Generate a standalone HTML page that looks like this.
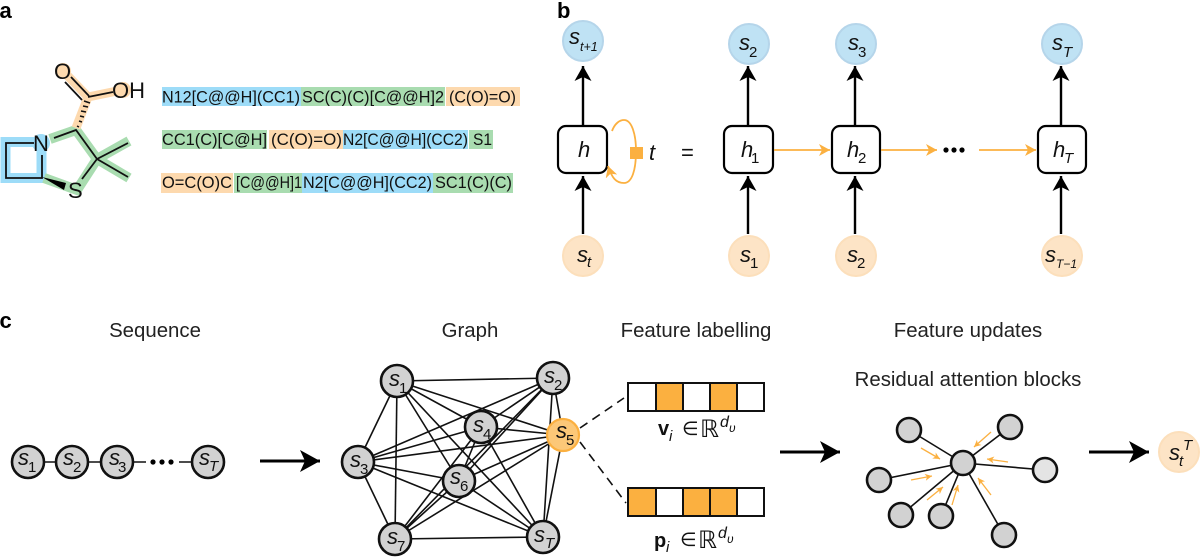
<!DOCTYPE html>
<html><head><meta charset="utf-8"><style>
html,body{margin:0;padding:0;background:#fff}
svg{display:block}
text{font-family:"Liberation Sans",sans-serif;fill:#111}
.i{font-style:italic}
.n{font-size:22px;font-style:italic}
.g{font-size:22px;font-style:italic}
.sub{font-size:15px}
.t{font-size:20.4px;text-anchor:middle;fill:#222}
.sm{font-size:16.4px;fill:#111}
.lab{font-size:22px;font-weight:bold;fill:#000}
.e line{stroke:#111;stroke-width:1.6}
.gn{fill:#d2d2d2;stroke:#111;stroke-width:2.6}
.bl{fill:#bfe2f4;stroke:#b5d5ea;stroke-width:2}
.or{fill:#fde4c6;stroke:#fcdfbb;stroke-width:2}
.bar{stroke:#111;stroke-width:2}
.o{stroke:#fbb040;stroke-width:1.8;fill:none}
.sa{stroke:#fbb040;stroke-width:1.3;fill:none}
</style></head><body>
<svg width="1200" height="557" viewBox="0 0 1200 557" xmlns="http://www.w3.org/2000/svg">
<defs>
<marker id="ar" markerUnits="userSpaceOnUse" markerWidth="17" markerHeight="18" refX="15" refY="9" orient="auto"><path d="M0,0.5 L15,9 L0,17.5 L4,9Z" fill="#000"/></marker>
<marker id="big" markerUnits="userSpaceOnUse" markerWidth="22" markerHeight="22" refX="20" refY="11" orient="auto"><path d="M0,0 L20,11 L0,22 L5,11Z" fill="#000"/></marker>
<marker id="oa" markerUnits="userSpaceOnUse" markerWidth="12" markerHeight="12" refX="11" refY="6" orient="auto"><path d="M0,0 L11,6 L0,12 L3,6Z" fill="#fbb040"/></marker>
<marker id="sm" markerUnits="userSpaceOnUse" markerWidth="8" markerHeight="8" refX="7" refY="4" orient="auto"><path d="M0,0.5 L7,4 L0,7.5 L2,4Z" fill="#fbb040"/></marker>
</defs>

<text class="lab" x="-0.5" y="18">a</text>
<text class="lab" x="557" y="18">b</text>
<text class="lab" x="-0.5" y="328">c</text>

<!-- a: molecule highlights -->
<g fill="none" stroke-linecap="butt">
<rect x="5.5" y="142" width="36" height="36" stroke="#9ddcf8" stroke-width="10"/>
<circle cx="41" cy="143" r="9" fill="#9ddcf8" stroke="none"/>
<path d="M50,139 L76,130 L97,159 L129,141 M97,159 L129,178 M97,159 L77,190 L44,178" stroke="#a9dcb0" stroke-width="10"/>
<path d="M76,128 L88,97 M88,97 L64,72 M88,97 L122,90" stroke="#fdd9ae" stroke-width="9"/>
<circle cx="63" cy="71" r="8" fill="#fdd9ae" stroke="none"/>
<circle cx="123" cy="90" r="8" fill="#fdd9ae" stroke="none"/>
</g>
<!-- a: molecule bonds -->
<g fill="none" stroke="#111" stroke-width="1.8">
<path d="M34,143 L6,143 L6,178 L42,178 L42,155"/>
<path d="M54,138 L76,130 L97,159 L128,143 M97,159 L128,177 M97,159 L82,179"/>
<path d="M88,97 L113,92 M71,77 L89,96 M65,82 L82,100"/>
</g>
<path d="M42,177 L66,183 L64,190Z" fill="#000"/>
<g stroke="#111" stroke-width="1.5"><path d="M84,101 L90,103 M83,106 L88,107 M81,111 L86,112 M80,116 L84,117 M79,121 L82,122 M77,126 L79,127"/></g>
<text x="54" y="79" font-size="22">O</text>
<text x="112" y="98" font-size="22">OH</text>
<text x="33" y="151" font-size="22">N</text>
<text x="68" y="198" font-size="22">S</text>

<!-- a: SMILES -->
<g>
<rect x="162" y="87" width="139" height="19" fill="#9ddcf8"/>
<rect x="301" y="87" width="144" height="19" fill="#a9dcb0"/>
<rect x="446" y="87" width="74" height="19" fill="#fdd9ae"/>
<rect x="162" y="130" width="105" height="19" fill="#a9dcb0"/>
<rect x="269" y="130" width="74" height="19" fill="#fdd9ae"/>
<rect x="343" y="130" width="125" height="19" fill="#9ddcf8"/>
<rect x="469" y="130" width="24" height="19" fill="#a9dcb0"/>
<rect x="161" y="173" width="72" height="20" fill="#fdd9ae"/>
<rect x="234" y="173" width="68" height="20" fill="#a9dcb0"/>
<rect x="302" y="173" width="131" height="20" fill="#9ddcf8"/>
<rect x="433" y="173" width="80" height="20" fill="#a9dcb0"/>
</g>
<g class="smiles">
<text class="sm" x="162" y="102.5" textLength="138" lengthAdjust="spacingAndGlyphs">N12[C@@H](CC1)</text>
<text class="sm" x="302" y="102.5" textLength="142" lengthAdjust="spacingAndGlyphs">SC(C)(C)[C@@H]2</text>
<text class="sm" x="449" y="102.5" textLength="67" lengthAdjust="spacingAndGlyphs">(C(O)=O)</text>
<text class="sm" x="162" y="145" textLength="105" lengthAdjust="spacingAndGlyphs">CC1(C)[C@H]</text>
<text class="sm" x="271" y="145" textLength="71" lengthAdjust="spacingAndGlyphs">(C(O)=O)</text>
<text class="sm" x="343" y="145" textLength="125" lengthAdjust="spacingAndGlyphs">N2[C@@H](CC2)</text>
<text class="sm" x="473" y="145" textLength="19" lengthAdjust="spacingAndGlyphs">S1</text>
<text class="sm" x="162" y="188" textLength="70" lengthAdjust="spacingAndGlyphs">O=C(O)C</text>
<text class="sm" x="236" y="188" textLength="66" lengthAdjust="spacingAndGlyphs">[C@@H]1</text>
<text class="sm" x="303" y="188" textLength="129" lengthAdjust="spacingAndGlyphs">N2[C@@H](CC2)</text>
<text class="sm" x="435" y="188" textLength="77" lengthAdjust="spacingAndGlyphs">SC1(C)(C)</text>
</g>

<!-- b: arrows -->
<g stroke="#000" stroke-width="2.4" fill="none">
<line x1="583" y1="234" x2="583" y2="176" marker-end="url(#ar)"/>
<line x1="583" y1="125" x2="583" y2="66" marker-end="url(#ar)"/>
<line x1="748" y1="234" x2="748" y2="176" marker-end="url(#ar)"/>
<line x1="748" y1="125" x2="748" y2="66" marker-end="url(#ar)"/>
<line x1="855" y1="234" x2="855" y2="176" marker-end="url(#ar)"/>
<line x1="855" y1="125" x2="855" y2="66" marker-end="url(#ar)"/>
<line x1="1061" y1="234" x2="1061" y2="176" marker-end="url(#ar)"/>
<line x1="1061" y1="125" x2="1061" y2="66" marker-end="url(#ar)"/>
</g>
<g fill="#fff" stroke="#000" stroke-width="2.2">
<rect x="558" y="126" width="49" height="47" rx="8"/>
<rect x="724" y="126" width="49" height="47" rx="8"/>
<rect x="832" y="126" width="48" height="47" rx="8"/>
<rect x="1038" y="126" width="48" height="47" rx="8"/>
</g>
<g class="o">
<line x1="774" y1="150" x2="830" y2="150" marker-end="url(#oa)"/>
<line x1="881" y1="150" x2="937" y2="150" marker-end="url(#oa)"/>
<line x1="979" y1="150" x2="1036" y2="150" marker-end="url(#oa)"/>
<path d="M612,131 C615,123 620,120 624,120 C632,120 636,135 636,151 C636,170 632,183 624,183 C616,183 612,178 608,166" marker-end="url(#oa)"/>
</g>
<rect x="630" y="147" width="13" height="12" fill="#fbb040"/>
<text class="n" x="649" y="160">t</text>
<text x="681" y="160" font-size="22">=</text>
<g fill="#000"><circle cx="946" cy="150" r="2.6"/><circle cx="954" cy="150" r="2.6"/><circle cx="962" cy="150" r="2.6"/></g>

<circle class="bl" cx="583" cy="41" r="20"/>
<circle class="bl" cx="749" cy="44" r="20"/>
<circle class="bl" cx="856" cy="44" r="20"/>
<circle class="bl" cx="1062" cy="44" r="20"/>
<circle class="or" cx="583" cy="256" r="20"/>
<circle class="or" cx="749" cy="256" r="20"/>
<circle class="or" cx="856" cy="256" r="20"/>
<circle class="or" cx="1062" cy="256" r="20"/>

<text class="n" x="569" y="44">s</text><text class="i" font-size="12.5" x="580" y="51">t+1</text>
<text class="n" x="739" y="50">s</text><text class="sub" x="749" y="57">2</text>
<text class="n" x="848" y="50">s</text><text class="sub" x="858" y="57">3</text>
<text class="n" x="1052" y="50">s</text><text class="i sub" x="1063" y="57">T</text>
<text class="n" x="577" y="262">s</text><text class="i sub" x="587" y="267">t</text>
<text class="n" x="740" y="262">s</text><text class="sub" x="750" y="268">1</text>
<text class="n" x="847" y="262">s</text><text class="sub" x="857" y="268">2</text>
<text class="n" x="1045" y="262">s</text><text class="i" font-size="12" x="1056" y="268">T−1</text>
<text class="n" x="578" y="157">h</text>
<text class="n" x="741" y="157">h</text><text class="sub" x="751" y="163">1</text>
<text class="n" x="847" y="157">h</text><text class="sub" x="858" y="163">2</text>
<text class="n" x="1053" y="157">h</text><text class="i sub" x="1064" y="163">T</text>

<!-- c: titles -->
<text class="t" x="155" y="337">Sequence</text>
<text class="t" x="470" y="337">Graph</text>
<text class="t" x="696" y="337">Feature labelling</text>
<text class="t" x="968" y="337">Feature updates</text>
<text class="t" x="968" y="386">Residual attention blocks</text>

<!-- c: sequence -->
<g stroke="#111" stroke-width="1.6">
<line x1="28" y1="462" x2="146" y2="462"/>
<line x1="179" y1="462" x2="208" y2="462"/>
</g>
<g fill="#000"><circle cx="153" cy="462" r="2.6"/><circle cx="162" cy="462" r="2.6"/><circle cx="171" cy="462" r="2.6"/></g>
<circle class="gn" cx="28" cy="462" r="16"/>
<circle class="gn" cx="72" cy="462" r="16"/>
<circle class="gn" cx="117" cy="462" r="16"/>
<circle class="gn" cx="208" cy="462" r="16"/>
<text class="g" x="18" y="465">s</text><text class="sub" x="28" y="472">1</text>
<text class="g" x="63" y="465">s</text><text class="sub" x="73" y="472">2</text>
<text class="g" x="109" y="465">s</text><text class="sub" x="118" y="472">3</text>
<text class="g" x="199" y="465">s</text><text class="i sub" x="209" y="471">T</text>

<g stroke="#000" stroke-width="3" fill="none">
<line x1="260" y1="461" x2="320" y2="461" marker-end="url(#big)"/>
<line x1="780" y1="452" x2="840" y2="452" marker-end="url(#big)"/>
<line x1="1089" y1="452" x2="1149" y2="452" marker-end="url(#big)"/>
</g>

<!-- c: graph -->
<g class="e">
<line x1="397" y1="381" x2="553" y2="378"/><line x1="397" y1="381" x2="358" y2="462"/>
<line x1="397" y1="381" x2="481" y2="427"/><line x1="397" y1="381" x2="563" y2="435"/>
<line x1="397" y1="381" x2="459" y2="481"/><line x1="397" y1="381" x2="395" y2="539"/>
<line x1="397" y1="381" x2="543" y2="537"/>
<line x1="553" y1="378" x2="358" y2="462"/><line x1="553" y1="378" x2="481" y2="427"/>
<line x1="553" y1="378" x2="563" y2="435"/><line x1="553" y1="378" x2="459" y2="481"/>
<line x1="553" y1="378" x2="395" y2="539"/><line x1="553" y1="378" x2="543" y2="537"/>
<line x1="358" y1="462" x2="481" y2="427"/><line x1="358" y1="462" x2="563" y2="435"/>
<line x1="358" y1="462" x2="459" y2="481"/><line x1="358" y1="462" x2="395" y2="539"/>
<line x1="358" y1="462" x2="543" y2="537"/>
<line x1="481" y1="427" x2="563" y2="435"/><line x1="481" y1="427" x2="459" y2="481"/>
<line x1="481" y1="427" x2="395" y2="539"/><line x1="481" y1="427" x2="543" y2="537"/>
<line x1="563" y1="435" x2="459" y2="481"/><line x1="563" y1="435" x2="395" y2="539"/>
<line x1="563" y1="435" x2="543" y2="537"/>
<line x1="459" y1="481" x2="395" y2="539"/><line x1="459" y1="481" x2="543" y2="537"/>
<line x1="395" y1="539" x2="543" y2="537"/>
</g>
<circle class="gn" cx="397" cy="381" r="16"/>
<circle class="gn" cx="553" cy="378" r="16"/>
<circle class="gn" cx="358" cy="462" r="16"/>
<circle class="gn" cx="481" cy="427" r="16"/>
<circle class="gn" cx="459" cy="481" r="16"/>
<circle class="gn" cx="395" cy="539" r="16"/>
<circle class="gn" cx="543" cy="537" r="16"/>
<circle cx="563" cy="435" r="16" fill="#fcc878" stroke="#fbb040" stroke-width="2.2"/>
<text class="g" x="389" y="386">s</text><text class="sub" x="399" y="393">1</text>
<text class="g" x="544" y="383">s</text><text class="sub" x="554" y="390">2</text>
<text class="g" x="350" y="467">s</text><text class="sub" x="360" y="474">3</text>
<text class="g" x="473" y="432">s</text><text class="sub" x="483" y="439">4</text>
<text class="g" x="556" y="438">s</text><text class="sub" x="566" y="445">5</text>
<text class="g" x="450" y="484">s</text><text class="sub" x="460" y="491">6</text>
<text class="g" x="387" y="544">s</text><text class="sub" x="397" y="551">7</text>
<text class="g" x="534" y="542">s</text><text class="i sub" x="545" y="548">T</text>

<!-- c: feature labelling -->
<g stroke="#111" stroke-width="1.6" stroke-dasharray="9,6" fill="none">
<line x1="580" y1="428" x2="624" y2="398"/>
<line x1="580" y1="442" x2="626" y2="503"/>
</g>
<g class="bar">
<rect x="628" y="383" width="28" height="28" fill="#fff"/>
<rect x="656" y="383" width="27" height="28" fill="#fbb040"/>
<rect x="683" y="383" width="27" height="28" fill="#fff"/>
<rect x="710" y="383" width="27" height="28" fill="#fbb040"/>
<rect x="737" y="383" width="27" height="28" fill="#fff"/>
<rect x="628" y="488" width="28" height="28" fill="#fbb040"/>
<rect x="656" y="488" width="27" height="28" fill="#fff"/>
<rect x="683" y="488" width="27" height="28" fill="#fbb040"/>
<rect x="710" y="488" width="27" height="28" fill="#fbb040"/>
<rect x="737" y="488" width="27" height="28" fill="#fff"/>
</g>
<text x="658" y="435" font-size="20" font-weight="bold">v</text>
<text class="i sub" x="669" y="441">i</text>
<text x="682" y="435" font-size="19" style="font-family:'DejaVu Sans',sans-serif">∈</text>
<text x="700" y="437" font-size="24" style="font-family:'DejaVu Sans',sans-serif">ℝ</text>
<text class="i" x="720" y="427" font-size="16">d</text>
<text class="i" x="729" y="432" font-size="12">υ</text>
<text x="654" y="547" font-size="20" font-weight="bold">p</text>
<text class="i sub" x="666" y="552">i</text>
<text x="680" y="546" font-size="19" style="font-family:'DejaVu Sans',sans-serif">∈</text>
<text x="698" y="548" font-size="24" style="font-family:'DejaVu Sans',sans-serif">ℝ</text>
<text class="i" x="718" y="538" font-size="16">d</text>
<text class="i" x="727" y="543" font-size="12">υ</text>

<!-- c: star -->
<g stroke="#111" stroke-width="1.6">
<line x1="963" y1="463" x2="909" y2="430"/><line x1="963" y1="463" x2="1010" y2="427"/>
<line x1="963" y1="463" x2="1045" y2="470"/><line x1="963" y1="463" x2="879" y2="480"/>
<line x1="963" y1="463" x2="901" y2="515"/><line x1="963" y1="463" x2="941" y2="516"/>
<line x1="963" y1="463" x2="1004" y2="535"/>
</g>
<g class="gn">
<circle cx="963" cy="463" r="12"/><circle cx="909" cy="430" r="12"/><circle cx="1010" cy="427" r="12"/>
<circle cx="1045" cy="470" r="12" style="fill:#e4e4e4"/><circle cx="879" cy="480" r="12"/>
<circle cx="901" cy="515" r="12"/><circle cx="941" cy="516" r="12"/><circle cx="1004" cy="535" r="12"/>
</g>
<g class="sa">
<line x1="921" y1="448" x2="940" y2="459" marker-end="url(#sm)"/>
<line x1="991" y1="432" x2="974" y2="447" marker-end="url(#sm)"/>
<line x1="1008" y1="462" x2="987" y2="459" marker-end="url(#sm)"/>
<line x1="991" y1="495" x2="978" y2="478" marker-end="url(#sm)"/>
<line x1="952" y1="505" x2="958" y2="485" marker-end="url(#sm)"/>
<line x1="927" y1="500" x2="943" y2="487" marker-end="url(#sm)"/>
<line x1="911" y1="480" x2="932" y2="476" marker-end="url(#sm)"/>
</g>
<circle class="or" cx="1179" cy="452" r="20"/>
<text class="n" x="1169" y="460">s</text><text class="i sub" x="1179" y="466">t</text><text class="i sub" x="1183" y="450">T</text>
</svg>
</body></html>
